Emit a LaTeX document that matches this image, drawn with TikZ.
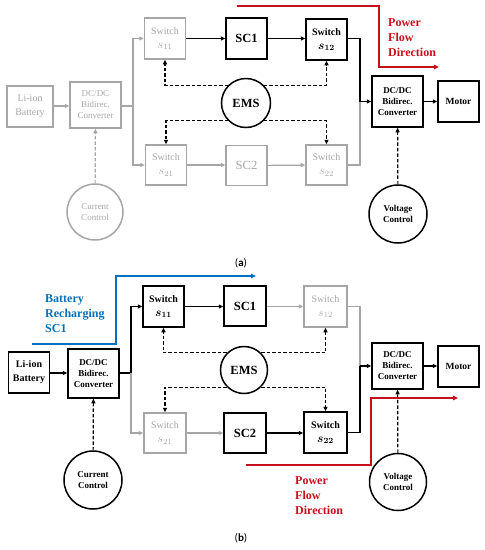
\documentclass[tikz,border=0pt]{standalone}
\usepackage{fontspec}
\setmainfont{Liberation Serif}
\newfontfamily\labfont{Carlito}
\usetikzlibrary{arrows.meta}
\definecolor{lg}{RGB}{166,166,166}
\definecolor{rd}{RGB}{200,16,28}
\definecolor{bl}{RGB}{0,112,192}
\newcommand{\bsub}[1]{\mbox{\fontsize{11.5}{14}\selectfont\boldmath$#1$}}
\newcommand{\nsub}[1]{\mbox{\fontsize{11.5}{14}\selectfont$#1$}}
\begin{document}
\begin{tikzpicture}[x=1pt,y=-1pt,
  bx/.style={draw, line width=1.5pt, inner sep=0pt, align=center, font=\bfseries\fontsize{10}{14}\selectfont, minimum width=41pt, minimum height=41pt},
  gr/.style={draw=lg, text=lg, font=\mdseries\fontsize{10}{14}\selectfont},
  conv/.style={font=\bfseries\fontsize{9}{11}\selectfont},
  gconv/.style={font=\mdseries\fontsize{9}{11}\selectfont},
  scb/.style={font=\bfseries\fontsize{12.5}{14}\selectfont},
  gscb/.style={font=\mdseries\fontsize{12.5}{14}\selectfont},
  crc/.style={draw, circle, line width=1.5pt, inner sep=0pt, align=center, font=\bfseries\fontsize{9}{11.5}\selectfont},
  cn/.style={line width=1.2pt, -{Triangle[length=4.5pt,width=4pt]}},
  ln/.style={line width=1.2pt},
  ds/.style={line width=1.2pt, dash pattern=on 3.5pt off 2pt, -{Triangle[length=4.5pt,width=4pt]}},
  flow/.style={line width=1.3pt, -{Triangle[length=5pt,width=4.5pt]}},
  ftxt/.style={align=left, anchor=west, inner sep=0pt, font=\bfseries\fontsize{12}{15}\selectfont},
  lab/.style={font=\labfont\fontsize{11}{13}\selectfont}
]
\useasboundingbox (0,0) rectangle (485,550);

% ===================== (a) =====================
\node[bx,gr,minimum width=46pt] (batA) at (30,106.5) {Li-ion\\Battery};
\node[bx,gr,gconv,minimum width=51pt,minimum height=46pt] (dcA) at (95.5,105) {DC/DC\\Bidirec.\\Converter};
\node[bx,gr] (s11A) at (165,38.5) {Switch\\{\nsub{s_{11}}}};
\node[bx,gr,minimum height=40pt] (s21A) at (166,165) {Switch\\{\nsub{s_{21}}}};
\node[bx,scb] (sc1A) at (246.5,38.5) {SC1};
\node[bx] (s12A) at (326.5,39.5) {Switch\\{\bsub{s_{12}}}};
\node[bx,gr,gscb,minimum height=40pt] (sc2A) at (246.5,165.5) {SC2};
\node[bx,gr,minimum height=40pt] (s22A) at (326.5,165) {Switch\\{\nsub{s_{22}}}};
\node[crc,scb,minimum size=49pt] (emsA) at (246,103) {EMS};
\node[bx,conv,minimum width=51pt,minimum height=51pt] (dcRA) at (397.5,101.5) {DC/DC\\Bidirec.\\Converter};
\node[bx,font=\bfseries\fontsize{9.5}{11}\selectfont] (motA) at (458.5,101.5) {Motor};
\node[crc,draw=lg,text=lg,font=\mdseries\fontsize{9}{11.5}\selectfont,minimum size=56pt] (ccA) at (95,212) {Current\\Control};
\node[crc,minimum size=58pt] (vcA) at (398,214) {Voltage\\Control};

\coordinate (jA) at (133,106);
\coordinate (kA) at (360,101.5);
\draw[cn,lg] (batA.east |- jA) -- (dcA.west |- jA);
\draw[ln,lg] (dcA.east |- jA) -- (jA);
\draw[cn,lg] (jA) |- (s11A.west);
\draw[cn,lg] (jA) |- (s21A.west);
\draw[cn] (s11A) -- (sc1A);
\draw[cn] (sc1A.east) -- (s12A.west |- sc1A.east);
\draw[ln] (s12A.east |- sc1A.east) -| (kA);
\draw[cn] (kA) -- (dcRA.west);
\draw[cn,lg] (s21A) -- (sc2A.west |- s21A.east);
\draw[cn,lg] (sc2A) -- (s22A);
\draw[ln,lg] (s22A.east) -| (kA);
\draw[cn] (dcRA) -- (motA);
\draw[ds] (emsA.135) -| (s11A.south);
\draw[ds] (emsA.225) -| (s21A.north);
\draw[ds] (emsA.45) -| (s12A.south);
\draw[ds] (emsA.315) -| (s22A.north);
\draw[ds,lg] (ccA) -- (dcA);
\draw[ds] (vcA) -- (dcRA);

\coordinate (raS) at (237,6);
\coordinate (raC) at (379,67);
\coordinate (raE) at (439,67);
\draw[flow,rd] (raS) -| (raC) -- (raE);
\node[ftxt,text=rd] (pfA) at (388,38) {Power\\Flow\\Direction};
\node[lab] (labA) at (241,263) {(\textbf{a})};

% ===================== (b) =====================
\node[bx] (batB) at (29,372.5) {Li-ion\\Battery};
\node[bx,conv,minimum width=51pt,minimum height=49pt] (dcB) at (93.5,373.5) {DC/DC\\Bidirec.\\Converter};
\node[bx] (s11B) at (163.5,306.5) {Switch\\{\bsub{s_{11}}}};
\node[bx,scb,minimum width=42pt,minimum height=40pt] (sc1B) at (245,306) {SC1};
\node[bx,gr,minimum width=43pt] (s12B) at (325.5,306.5) {Switch\\{\nsub{s_{12}}}};
\node[crc,scb,minimum size=47pt] (emsB) at (244,370) {EMS};
\node[bx,conv,minimum width=51pt,minimum height=46pt] (dcRB) at (397.5,366) {DC/DC\\Bidirec.\\Converter};
\node[bx,font=\bfseries\fontsize{9.5}{11}\selectfont] (motB) at (458.5,366.5) {Motor};
\node[bx,gr,minimum width=42pt,minimum height=40pt] (s21B) at (165,433) {Switch\\{\nsub{s_{21}}}};
\node[bx,scb,minimum width=42pt,minimum height=40pt] (sc2B) at (245,433) {SC2};
\node[bx,minimum width=43pt] (s22B) at (325.5,432.5) {Switch\\{\bsub{s_{22}}}};
\node[crc,minimum size=58pt] (ccB) at (93,480) {Current\\Control};
\node[crc,minimum size=57pt] (vcB) at (398,482) {Voltage\\Control};

\coordinate (jB) at (131,373);
\coordinate (kB) at (360,366);
\draw[cn] (batB.east |- jB) -- (dcB.west |- jB);
\draw[ln] (dcB.east |- jB) -- (jB);
\draw[cn] (jB) |- (s11B.west);
\draw[cn,lg] (jB) |- (s21B.west);
\draw[cn] (s11B) -- (sc1B.west |- s11B.east);
\draw[cn,lg] (sc1B.east |- s11B.east) -- (s12B.west |- s11B.east);
\draw[ln,lg] (s12B.east) -| (kB);
\draw[ln] (s22B.east) -| (kB);
\draw[cn] (kB) -- (dcRB.west);
\draw[cn,lg] (s21B) -- (sc2B);
\draw[cn] (sc2B) -- (s22B.west |- sc2B.east);
\draw[cn] (dcRB) -- (motB.west |- dcRB.east);
\draw[ds] (emsB.135) -| (s11B.south);
\draw[ds] (emsB.225) -| (s21B.north);
\draw[ds] (emsB.45) -| (s12B.south);
\draw[ds] (emsB.315) -| (s22B.north);
\draw[ds] (ccB) -- (dcB);
\draw[ds] (vcB) -- (dcRB);

\coordinate (baS) at (32,344);
\coordinate (baC) at (116,276);
\coordinate (baE) at (256,276);
\draw[flow,bl] (baS) -| (baC) -- (baE);
\node[ftxt,text=bl] (brB) at (45,314) {Battery\\Recharging\\SC1};

\coordinate (rbS) at (246,465);
\coordinate (rbC) at (371,398);
\coordinate (rbE) at (458,398);
\draw[flow,rd] (rbS) -| (rbC) -- (rbE);
\node[ftxt,text=rd] (pfB) at (295,496) {Power\\Flow\\Direction};
\node[lab] (labB) at (241,538) {(\textbf{b})};
\end{tikzpicture}
\end{document}
